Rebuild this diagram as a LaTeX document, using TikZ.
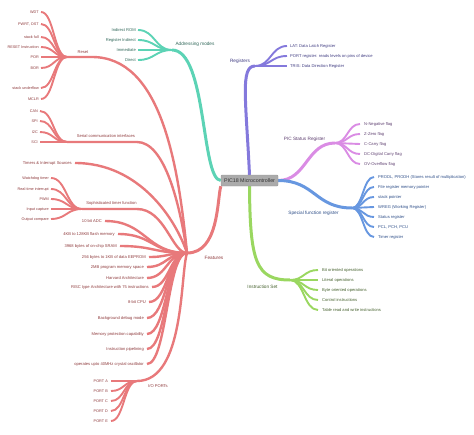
\documentclass[tikz,border=0pt]{standalone}
\usepackage{fontspec}
\setmainfont{Liberation Sans}
\usetikzlibrary{calc}
\pgfdeclarelayer{background}
\pgfsetlayers{background,main}
\definecolor{cred}{HTML}{E8797B}
\definecolor{cteal}{HTML}{5CD3B5}
\definecolor{cpurp}{HTML}{8479DC}
\definecolor{cpink}{HTML}{DA8CE4}
\definecolor{cblue}{HTML}{6797E0}
\definecolor{cgreen}{HTML}{9AD760}
\definecolor{tred}{HTML}{8E3A3C}
\definecolor{tteal}{HTML}{2F6658}
\definecolor{tpurp}{HTML}{3E3A80}
\definecolor{tpink}{HTML}{5E3F70}
\definecolor{tblue}{HTML}{2E4E88}
\definecolor{tgreen}{HTML}{44602C}
\begin{document}
\begin{tikzpicture}[x=1pt,y=-1pt,line cap=round,
  hs/.style={to path={let \p1=(\tikztostart), \p2=(\tikztotarget) in .. controls ({(\x1+\x2)/2},\y1) and ({(\x1+\x2)/2},\y2) .. (\tikztotarget)}},
  txt/.style={inner sep=0pt, text height=2.9pt, text depth=0.9pt},
  lthree/.style={txt, font=\fontsize{3.8}{4}\selectfont},
  ltwo/.style={txt, font=\fontsize{4.1}{4.5}\selectfont},
  lone/.style={inner sep=0pt, text height=3.4pt, text depth=1pt, font=\fontsize{4.7}{5}\selectfont},
  rootbox/.style={fill=black!33, draw=black!40, rounded corners=1pt, minimum width=57pt, minimum height=11pt, inner sep=0pt, text=black!80, font=\fontsize{5.3}{6}\selectfont},
  mainln/.style={line width=3pt},
  midln/.style={line width=2.4pt},
  leafln/.style={line width=1.9pt},
]
\useasboundingbox (0,0) rectangle (474,434);

% ---------- root ----------
\node[rootbox] (root) at (249.5,180.5) {PIC18 Microcontroller};

% ---------- hub coordinates ----------
\coordinate (addr) at (172,50);
\coordinate (regs) at (255,66);
\coordinate (stat) at (335,143);
\coordinate (sfr) at (352,208);
\coordinate (inst) at (290,280);
\coordinate (feat) at (187,253);
\coordinate (reset) at (67,57);   \coordinate (resetE) at (92,57);
\coordinate (serial) at (67,142); \coordinate (serialE) at (137,142);
\coordinate (soph) at (82,209);   \coordinate (sophE) at (137,209);
\coordinate (io) at (137,381);

% ---------- level-1 labels ----------
\node[lone, text=tteal] (addrL) at (195,44) {Addressing modes};
\node[lone, text=tpurp] (regsL) at (240,61) {Registers};
\node[lone, text=tpink] (statL) at (304.5,139) {PIC Status Register};
\node[lone, text=tblue] (sfrL) at (313.5,213) {Special function register};
\node[lone, text=tgreen] (instL) at (262.5,287) {Instruction Set};
\node[lone, text=tred] (featL) at (214,258) {Features};

% ---------- teal leaves ----------
\begin{scope}[every node/.style={ltwo, text=tteal, anchor=east}]
\node (a1) at (136,30) {Indirect ROM};
\node (a2) at (136,40) {Register Indirect};
\node (a3) at (136,50) {Immediate};
\node (a4) at (136,60) {Direct};
\end{scope}

% ---------- purple leaves ----------
\begin{scope}[every node/.style={ltwo, text=tpurp, anchor=west}]
\node (r1) at (290,46) {LAT: Data Latch Register};
\node (r2) at (290,56) {PORT register: reads levels on pins of device};
\node (r3) at (290,66) {TRIS: Data Direction Register};
\end{scope}

% ---------- pink leaves ----------
\begin{scope}[every node/.style={ltwo, text=tpink, anchor=west}]
\node (s1) at (364,124) {N-Negative flag};
\node (s2) at (364,134) {Z-Zero flag};
\node (s3) at (364,144) {C-Carry flag};
\node (s4) at (364,154) {DC-Digital Carry flag};
\node (s5) at (364,164) {OV-Overflow flag};
\end{scope}

% ---------- blue leaves ----------
\begin{scope}[every node/.style={ltwo, text=tblue, anchor=west}]
\node (f1) at (378,177) {PRODL, PRODH (Stores result of multiplication)};
\node (f2) at (378,187) {File register memory pointer};
\node (f3) at (378,197) {stack pointer};
\node (f4) at (378,207) {WREG (Working Register)};
\node (f5) at (378,217) {Status register};
\node (f6) at (378,227) {PCL, PCH, PCU};
\node (f7) at (378,237) {Timer register};
\end{scope}

% ---------- green leaves ----------
\begin{scope}[every node/.style={ltwo, text=tgreen, anchor=west}]
\node (i1) at (322,270) {Bit oriented operations};
\node (i2) at (322,280) {Literal operations};
\node (i3) at (322,290) {Byte oriented operations};
\node (i4) at (322,300) {Control instructions};
\node (i5) at (322,310) {Table read and write instructions};
\end{scope}

% ---------- red: level-2 labels ----------
\begin{scope}[every node/.style={ltwo, text=tred}]
\node (resetL) at (83,52) {Reset};
\node (serialL) at (106,136) {Serial communication interfaces};
\node (sophL) at (111.5,203) {Sophisticated timer function};
\node (ioL) at (158,386) {I/O PORTs};
\end{scope}

% ---------- red: level-2 leaves ----------
\begin{scope}[every node/.style={ltwo, text=tred, anchor=east}]
\node (tim) at (72,163) {Timers \& Interrupt Sources};
\node (e1) at (102,221) {10 bit ADC};
\node (e2) at (115,234) {4KB to 128KB flash memory};
\node (e3) at (117,246) {3968 bytes of on-chip SRAM};
\node (e4) at (146,257) {256 bytes to 1KB of data EEPROM};
\node (e5) at (144,267) {2MB program memory space};
\node (e6) at (144,278) {Harvard Architecture};
\node (e7) at (149,287) {RISC type Architecture with 75 instructions};
\node (e8) at (146,302) {8-bit CPU};
\node (e9) at (144,318) {Background debug mode};
\node (e10) at (144,334) {Memory protection capability};
\node (e11) at (144,349) {Instruction pipelining};
\node (e12) at (144,364) {operates upto 40MHz crystal oscillator};
\end{scope}

% ---------- red: level-3 leaves ----------
\begin{scope}[every node/.style={lthree, text=tred, anchor=east}]
\node (q1) at (39,12) {WDT};
\node (q2) at (39,24) {PWRT, OST};
\node (q3) at (39,37) {stack full};
\node (q4) at (39,47) {RESET Instruction};
\node (q5) at (39,57) {POR};
\node (q6) at (39,68) {BOR};
\node (q7) at (39,88) {stack underflow};
\node (q8) at (39,99) {MCLR};
\node (c1) at (38,111) {CAN};
\node (c2) at (38,121) {SPI};
\node (c3) at (38,132) {I2C};
\node (c4) at (38,142) {SCI};
\node (w1) at (49,178) {Watchdog timer};
\node (w2) at (49,189) {Real-time interrupt};
\node (w3) at (49,199) {PWM};
\node (w4) at (49,209) {Input capture};
\node (w5) at (49,219) {Output compare};
\node (p1) at (108,381) {PORT A};
\node (p2) at (108,391) {PORT B};
\node (p3) at (108,401) {PORT C};
\node (p4) at (108,411) {PORT D};
\node (p5) at (108,421) {PORT E};
\end{scope}

\begin{pgfonlayer}{background}
% main branches
\draw[cteal, mainln] (root.west) .. controls (201,180) and (207,50) .. (addr);
\draw[cpurp, mainln] (root.north) .. controls (246,100) and (240,66) .. (regs);
\draw[cpink, mainln] (root.east) to[hs] (stat);
\draw[cblue, mainln] (root.east) to[hs] (sfr);
\draw[cgreen, mainln] (root.south) .. controls (250,262) and (256,280) .. (inst);
\draw[cred, mainln] (root.south west) .. controls (217,200) and (219,253) .. (feat);

% teal leaves
\foreach \n in {a1,a2,a3,a4}
  \draw[cteal, leafln] ([xshift=2pt]\n.east) to[hs] (addr);
% purple leaves
\foreach \n in {r1,r2,r3}
  \draw[cpurp, leafln] (regs) to[hs] ([xshift=-3pt]\n.west);
% pink leaves
\foreach \n in {s1,s2,s3,s4,s5}
  \draw[cpink, leafln] (stat) to[hs] ([xshift=-4pt]\n.west);
% blue leaves
\foreach \n in {f1,f2,f3,f4,f5,f6,f7}
  \draw[cblue, leafln] (sfr) to[hs] ([xshift=-4pt]\n.west);
% green leaves
\foreach \n in {i1,i2,i3,i4,i5}
  \draw[cgreen, leafln] (inst) to[hs] ([xshift=-4pt]\n.west);

% red level-2 branches
\draw[cred, midln] (reset) -- (resetE) .. controls (160,57) and (178,160) .. (feat);
\draw[cred, midln] (serial) -- (serialE) .. controls (165,142) and (180,205) .. (feat);
\draw[cred, midln] ([xshift=3pt]tim.east) .. controls (140,163) and (176,220) .. (feat);
\draw[cred, midln] (soph) -- (sophE) .. controls (165,209) and (172,253) .. (feat);
\draw[cred, midln] (io) .. controls (185,381) and (180,275) .. (feat);
\foreach \n in {e1,e2,e3,e4,e5,e6,e7,e8,e9,e10,e11,e12}
  \draw[cred, midln] ([xshift=3pt]\n.east) to[hs] (feat);

% red level-3 leaves
\foreach \n in {q1,q2,q3,q4,q5,q6,q7,q8}
  \draw[cred, leafln] ([xshift=2pt]\n.east) to[hs] (reset);
\foreach \n in {c1,c2,c3,c4}
  \draw[cred, leafln] ([xshift=2pt]\n.east) to[hs] (serial);
\foreach \n in {w1,w2,w3,w4,w5}
  \draw[cred, leafln] ([xshift=2pt]\n.east) to[hs] (soph);
\foreach \n in {p1,p2,p3,p4,p5}
  \draw[cred, leafln] ([xshift=3pt]\n.east) to[hs] (io);
\end{pgfonlayer}
\end{tikzpicture}
\end{document}
